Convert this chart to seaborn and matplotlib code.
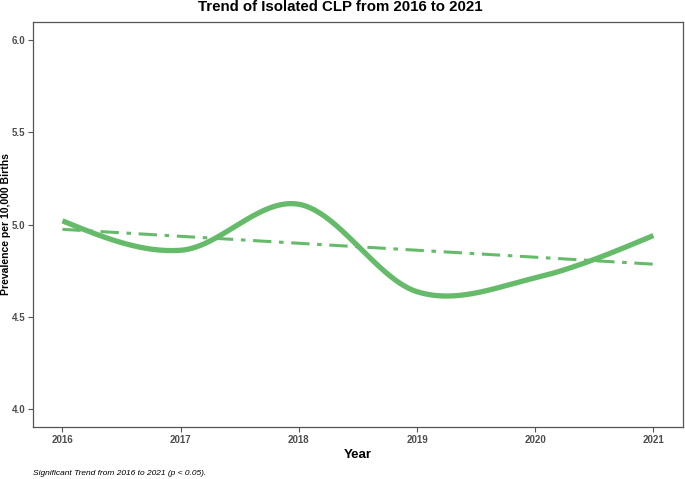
import numpy as np
import pandas as pd
import matplotlib
matplotlib.use("Agg")
import matplotlib.pyplot as plt
import seaborn as sns

years = [2016, 2017, 2018, 2019, 2020, 2021]
prevalence = [5.02, 4.86, 5.11, 4.635, 4.71, 4.94]
y_ticks = [4.0, 4.5, 5.0, 5.5, 6.0]
title = "Trend of Isolated CLP from 2016 to 2021"
footnote = "Significant Trend from 2016 to 2021 (p < 0.05)."
color = "#66BB6A"


def hermite_smooth(x, y, per=80):
    """Catmull-Rom style interpolating curve with natural end tangents."""
    x = np.asarray(x, float); y = np.asarray(y, float)
    n = len(x)
    m = np.zeros(n)
    for i in range(1, n - 1):
        m[i] = (y[i + 1] - y[i - 1]) / (x[i + 1] - x[i - 1])
    m[0] = (3 * (y[1] - y[0]) / (x[1] - x[0]) - m[1]) / 2
    m[-1] = (3 * (y[-1] - y[-2]) / (x[-1] - x[-2]) - m[-2]) / 2
    xs, ys = [], []
    for i in range(n - 1):
        h = x[i + 1] - x[i]
        t = np.linspace(0, 1, per, endpoint=(i == n - 2))
        h00 = 2 * t**3 - 3 * t**2 + 1
        h10 = t**3 - 2 * t**2 + t
        h01 = -2 * t**3 + 3 * t**2
        h11 = t**3 - t**2
        xs.append(x[i] + t * h)
        ys.append(h00 * y[i] + h10 * h * m[i] + h01 * y[i + 1] + h11 * h * m[i + 1])
    return np.concatenate(xs), np.concatenate(ys)


sns.set_theme(style="white")
plt.rcParams['font.family'] = ['Liberation Sans', 'DejaVu Sans']

sx, sy = hermite_smooth(years, prevalence)
smooth = pd.DataFrame({"Year": sx, "Prev": sy})
coef = np.polyfit(years, prevalence, 1)
trend = pd.DataFrame({"Year": years, "Prev": np.polyval(coef, years)})

fig = plt.figure(figsize=(6.85, 4.79), dpi=100)
ax = fig.add_axes([0.048, 0.1086, 0.949, 0.8454])

sns.lineplot(data=smooth, x="Year", y="Prev", ax=ax, color=color, lw=3.8,
             solid_capstyle="butt", sort=False)
sns.lineplot(data=trend, x="Year", y="Prev", ax=ax, color=color, lw=2.2,
             dashes=False, linestyle=(0, (6, 2.5, 1.5, 2.5)))

ax.set_xlim(2015.75, 2021.25)
ax.set_ylim(3.9, 6.1)
ax.set_xticks(years)
ax.set_xticklabels([str(y) for y in years])
ax.set_yticks(y_ticks)
ax.set_yticklabels([f"{v:.1f}" for v in y_ticks])
ax.tick_params(axis="both", which="major", direction="out", length=3.5, width=0.8,
               color="#555555", labelcolor="#4d4d4d", labelsize=7, pad=2,
               bottom=True, left=True)
for lab in ax.get_xticklabels() + ax.get_yticklabels():
    lab.set_fontweight("bold")
for s in ax.spines.values():
    s.set_color("#555555"); s.set_linewidth(0.9)
ax.set_xlabel("Year", fontsize=9.5, fontweight="bold", color="black", labelpad=3)
ax.set_ylabel("Prevalence per 10,000 Births", fontsize=7.5, fontweight="bold",
              color="black")
ax.yaxis.label.set_va("center")
ax.yaxis.set_label_coords(-0.0415, 0.5)
fig.text(0.497, 0.986, title, ha="center", va="center", fontsize=10.8,
         fontweight="bold", color="black")
fig.text(0.048, 0.0125, footnote, ha="left", va="center", fontsize=6,
         style="italic", color="black")

fig.savefig("out.png", dpi=100)
